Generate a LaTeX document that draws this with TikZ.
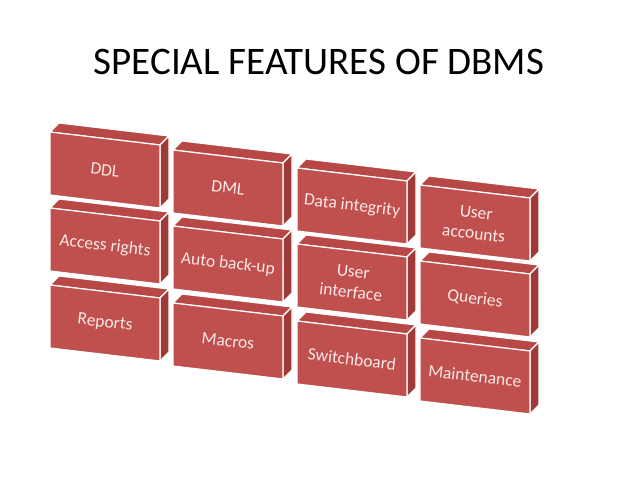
\documentclass[tikz,border=0pt]{standalone}
\usepackage{fontspec}
\setmainfont{Carlito}
\definecolor{frontc}{RGB}{192,80,77}
\definecolor{topc}{RGB}{184,72,69}
\definecolor{sidec}{RGB}{160,58,56}
\definecolor{txtc}{RGB}{250,232,230}
\tikzset{face/.style={draw=white,line width=1.2pt,line join=round},
  lbl/.style={text=txtc,font=\fontsize{17.5}{21}\selectfont,align=center,rotate=-6.7,inner sep=0pt}}
\newcommand\blk[4]{%
  \fill[topc,face] (#2,#3) -- ++(9,-9) -- ++(110,13) -- ++(-9,9) -- cycle;
  \fill[sidec,face] (#2+110,#3+13) -- ++(9,-9) -- ++(0,63) -- ++(-9,9) -- cycle;
  \fill[frontc,face] (#2,#3) -- ++(110,13) -- ++(0,63) -- ++(-110,-13) -- cycle;
  \node[lbl] (#1) at (#2+55,#3+38) {#4};}
\begin{document}
\begin{tikzpicture}[x=1pt,y=-1pt]
\useasboundingbox[fill=white] (0,0) rectangle (638,478);
\node[font=\fontsize{39}{41}\selectfont] (title) at (319,62) {SPECIAL FEATURES OF DBMS};
\blk{ddl}{50}{132}{DDL}
\blk{acc}{50}{208}{Access rights}
\blk{rep}{50}{285}{Reports}
\blk{dml}{173}{150}{DML}
\blk{auto}{173}{226}{Auto back-up}
\blk{mac}{173}{303}{Macros}
\blk{di}{297}{168}{Data integrity}
\blk{ui}{297}{244}{User\\interface}
\blk{sw}{297}{321}{Switchboard}
\blk{ua}{420}{185}{User\\accounts}
\blk{q}{420}{261}{Queries}
\blk{mt}{420}{338}{Maintenance}
\end{tikzpicture}
\end{document}
